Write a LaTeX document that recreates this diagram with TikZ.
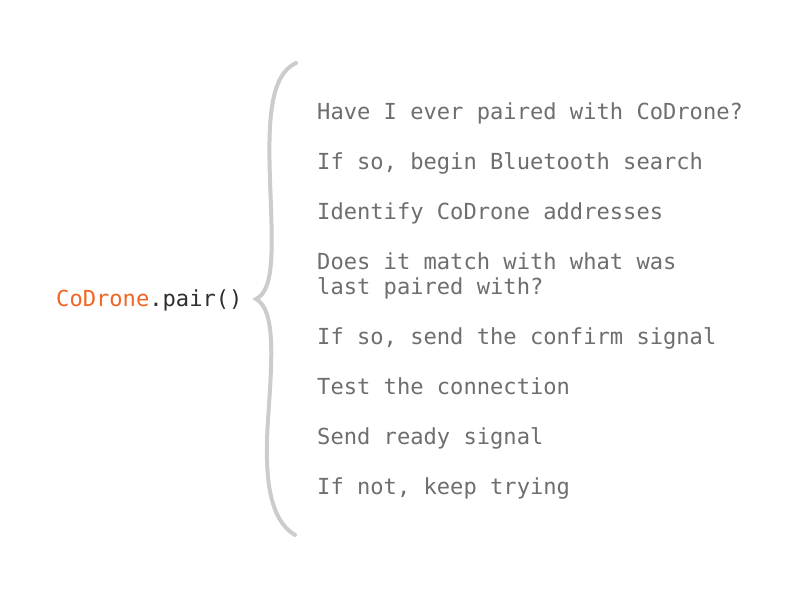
\documentclass[tikz,border=0pt]{standalone}
\usepackage{fontspec}
\setmonofont{DejaVu Sans Mono}
\definecolor{itemgray}{HTML}{6E6E6E}
\definecolor{codeorange}{HTML}{F26522}
\definecolor{codedark}{HTML}{2E2E2E}
\definecolor{bracegray}{HTML}{CCCCCC}
\begin{document}
\begin{tikzpicture}[x=1pt,y=-1pt,
  item/.style={anchor=base west,inner sep=0pt,text=itemgray,align=left,
    font=\ttfamily\fontsize{22.1}{25}\selectfont},
  code/.style={anchor=base west,inner sep=0pt,
    font=\ttfamily\fontsize{22.1}{25}\selectfont},
  bracestyle/.style={draw=bracegray,line width=4pt,line cap=round}]
\useasboundingbox[fill=white] (0,0) rectangle (800,600);
\node[code] (fn) at (56,306) {\textcolor{codeorange}{CoDrone}\textcolor{codedark}{.pair()}};
\coordinate (bt) at (296,63);
\coordinate (bm) at (256,299);
\coordinate (bb) at (295,535);
\path[bracestyle] (bt) .. controls (270,75) and (268,120) .. (270,180)
  .. controls (272,240) and (276,290) .. (bm)
  .. controls (276,310) and (272,360) .. (268,420)
  .. controls (264,480) and (270,520) .. (bb);
\node[item] (i1) at (317,119) {Have I ever paired with CoDrone?};
\node[item] (i2) at (317,169) {If so, begin Bluetooth search};
\node[item] (i3) at (317,219) {Identify CoDrone addresses};
\node[item] (i4) at (317,294) {Does it match with what was\\last paired with?};
\node[item] (i5) at (317,344) {If so, send the confirm signal};
\node[item] (i6) at (317,394) {Test the connection};
\node[item] (i7) at (317,444) {Send ready signal};
\node[item] (i8) at (317,494) {If not, keep trying};
\end{tikzpicture}
\end{document}
